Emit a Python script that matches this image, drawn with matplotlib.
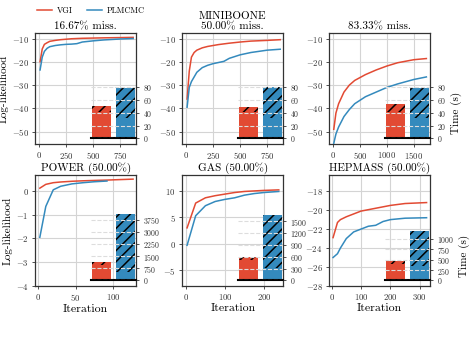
import matplotlib
matplotlib.use("Agg")
import matplotlib.pyplot as plt

plt.rcParams["font.family"] = "serif"
plt.rcParams["font.serif"] = ["cmr10", "DejaVu Serif"]
plt.rcParams["mathtext.fontset"] = "cm"
plt.rcParams["axes.formatter.use_mathtext"] = True
plt.rcParams["axes.unicode_minus"] = True
plt.rcParams["hatch.linewidth"] = 1.1

RED = "#E24A33"
BLUE = "#348ABD"

# --- log-likelihood curves -------------------------------------------------
mb17_it = [10, 30, 50, 75, 100, 150, 200, 250, 300, 350, 400, 500, 600, 750, 870]
mb17_vgi = [-20, -14.5, -12.5, -11.8, -11.2, -10.8, -10.5, -10.3, -10.1, -10.0, -9.9, -9.8, -9.7, -9.6, -9.5]
mb17_pl = [-23.5, -18, -15.5, -14.2, -13.5, -13.0, -12.7, -12.5, -12.4, -12.2, -11.5, -11.0, -10.6, -10.2, -10.0]

mb50_it = [10, 30, 50, 75, 100, 150, 200, 250, 300, 350, 400, 500, 600, 750, 870]
mb50_vgi = [-36, -24, -18, -16, -15, -14, -13.4, -13, -12.6, -12.3, -12, -11.5, -11.1, -10.8, -10.5]
mb50_pl = [-39.5, -31, -28.5, -26.5, -24.5, -22.5, -21.5, -20.8, -20.3, -19.8, -18.5, -17, -16, -15, -14.6]

mb83_it = [10, 50, 100, 200, 300, 400, 600, 800, 1000, 1200, 1500, 1735]
mb83_vgi = [-49, -42, -38, -33, -30, -28, -25.5, -23.5, -21.8, -20.4, -19.1, -18.6]
mb83_pl = [-55, -51, -48, -43.5, -40.5, -38, -35, -33, -31, -29.5, -27.6, -26.5]

pw_it = [2, 10, 20, 30, 45, 60, 80, 92, 100, 127]
pw_vgi = [0.12, 0.28, 0.35, 0.38, 0.41, 0.43, 0.45, 0.46, 0.47, 0.5]
pw_pl_it = [2, 10, 20, 30, 45, 60, 75, 92]
pw_pl = [-1.95, -0.65, 0.05, 0.2, 0.3, 0.35, 0.39, 0.42]

gas_it = [3, 25, 50, 75, 100, 125, 150, 175, 200, 238]
gas_vgi = [3.0, 7.7, 8.7, 9.1, 9.4, 9.7, 9.9, 10.0, 10.1, 10.2]
gas_pl = [-0.3, 5.3, 7.2, 8.0, 8.4, 8.7, 9.2, 9.5, 9.7, 9.9]

hep_it = [5, 20, 30, 50, 75, 100, 125, 150, 175, 200, 250, 323]
hep_vgi = [-22.9, -21.3, -21.0, -20.7, -20.4, -20.1, -19.95, -19.8, -19.65, -19.5, -19.3, -19.2]
hep_pl = [-25.0, -24.6, -24.0, -23.0, -22.3, -22.0, -21.7, -21.6, -21.2, -21.0, -20.85, -20.8]

# --- run time: base part and extra (hatched) part, seconds --------------
time_vgi_base = [41, 41, 41, 920, 513, 397]
time_vgi_total = [50.5, 49.5, 54, 1125, 590, 461]
time_pl_base = [32, 32, 32, 500, 318, 340]
time_pl_total = [78.5, 80, 79, 4100, 1660, 1190]

titles = ["16.67% miss.", "MINIBOONE\n50.00% miss.", "83.33% miss.",
          "POWER (50.00%)", "GAS (50.00%)", "HEPMASS (50.00%)"]

curves = [
    (mb17_it, mb17_vgi, mb17_it, mb17_pl),
    (mb50_it, mb50_vgi, mb50_it, mb50_pl),
    (mb83_it, mb83_vgi, mb83_it, mb83_pl),
    (pw_it, pw_vgi, pw_pl_it, pw_pl),
    (gas_it, gas_vgi, gas_it, gas_pl),
    (hep_it, hep_vgi, hep_it, hep_pl),
]

xticks = [[0, 250, 500, 750], [0, 250, 500, 750], [0, 500, 1000, 1500],
          [0, 50, 100], [0, 100, 200], [0, 100, 200, 300]]
yticks = [[-50, -40, -30, -20, -10]] * 3 + [[-4, -3, -2, -1, 0], [-5, 0, 5, 10],
                                            [-28, -26, -24, -22, -20, -18]]
time_ticks = [[0, 20, 40, 60, 80]] * 3 + [[0, 750, 1500, 2250, 3000, 3750],
                                          [0, 300, 600, 900, 1200, 1500],
                                          [0, 250, 500, 750, 1000]]

xlims = [(-37, 900), (-37, 900), (-80, 1810), (-4.5, 131.5), (-10, 250), (-9, 336)]
ylims = [(-55.3, -7.7)] * 3 + [(-4.0, 0.67), (-8, 13), (-28, -16.3)]
inset_h = [0.46, 0.46, 0.46, 0.6, 0.59, 0.445]

fig = plt.figure(figsize=(4.74, 3.42), dpi=100)
lefts = [0.0738, 0.384, 0.694]
bottoms = [0.579, 0.164]
w, h = 0.2140, 0.3240

for i in range(6):
    r, c = divmod(i, 3)
    ax = fig.add_axes([lefts[c], bottoms[r], w, h])
    xv, yv, xp, yp = curves[i]
    ax.plot(xv, yv, color=RED, lw=1.1, zorder=3)
    ax.plot(xp, yp, color=BLUE, lw=1.1, zorder=3)
    ax.set_xlim(*xlims[i])
    ax.set_ylim(*ylims[i])
    ax.set_xticks(xticks[i])
    ax.set_yticks(yticks[i])
    ax.grid(True, color="#d4d4d4", lw=0.8)
    ax.set_axisbelow(True)
    for s in ax.spines.values():
        s.set_color("#333333")
        s.set_linewidth(0.9)
    ax.tick_params(labelsize=6.3, length=2.5, width=0.6, colors="#333333", pad=2)
    ax.set_title(titles[i], fontsize=8, pad=3, linespacing=1.0)
    if c == 0:
        ax.set_ylabel("Log-likelihood", fontsize=8, labelpad=2)
    if r == 1:
        ax.set_xlabel("Iteration", fontsize=8.5, labelpad=1)

    # stacked time bars inside the lower right corner
    ins = ax.inset_axes([0.55, 0.05, 0.45, inset_h[i]])
    ins.patch.set_alpha(0)
    ins.set_xlim(-0.45, 1.45)
    ins.set_ylim(0, max(time_vgi_total[i], time_pl_total[i]))
    base = [time_vgi_base[i], time_pl_base[i]]
    extra = [time_vgi_total[i] - time_vgi_base[i], time_pl_total[i] - time_pl_base[i]]
    ins.bar([0, 1], base, width=0.8, color=[RED, BLUE], lw=0)
    ins.bar([0, 1], extra, bottom=base, width=0.8, color=[RED, BLUE],
            edgecolor="black", lw=0, hatch="///")
    ins.set_xticks([])
    ins.set_yticks(time_ticks[i])
    ins.yaxis.tick_right()
    ins.tick_params(labelsize=5.7, length=2.5, width=0.6, colors="#333333", pad=2)
    ins.yaxis.grid(True, color="#dddddd", ls="--", lw=0.8)
    ins.set_axisbelow(False)
    for side in ["left", "top", "right"]:
        ins.spines[side].set_visible(False)
    ins.spines["bottom"].set_color("black")
    ins.spines["bottom"].set_linewidth(1.5)
    if c == 2:
        ins.yaxis.set_label_position("right")
        ins.set_ylabel("Time (s)", fontsize=8, labelpad=3)

handles = [plt.Line2D([], [], color=RED, lw=1.1), plt.Line2D([], [], color=BLUE, lw=1.1)]
fig.legend(handles, ["VGI", "PLMCMC"], loc="center left", bbox_to_anchor=(0.0774, 0.9687),
           ncol=2, frameon=False, fontsize=6, handlelength=1.8, handletextpad=0.6,
           columnspacing=1.7, borderpad=0, borderaxespad=0)

fig.savefig("out.png", dpi=100)
